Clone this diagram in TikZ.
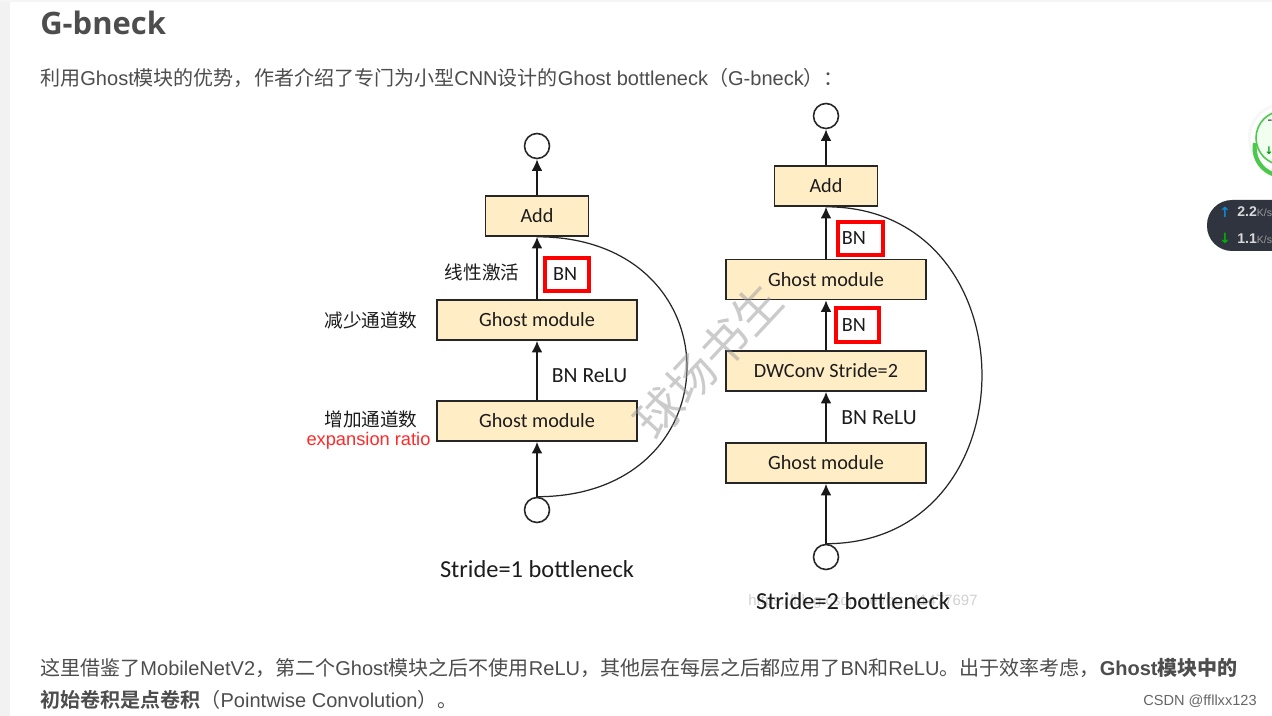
\documentclass[tikz,border=0pt]{standalone}
\usepackage{fontspec}
\usepackage{tikz}
\usetikzlibrary{calc, shapes.geometric, arrows.meta}
\setmainfont{Liberation Sans}
\newfontfamily\zhfont{Noto Sans CJK SC}
\newfontfamily\zhbold{Noto Sans CJK SC Bold}
\newfontfamily\figfont{Carlito}
\newfontfamily\headfont{Open Sans}
\newfontfamily\symfont{DejaVu Sans}
\newcommand{\zh}[1]{{\zhfont #1}}
\newcommand{\zhb}[1]{{\zhbold #1}}
\definecolor{boxfill}{HTML}{FFEDC6}
\definecolor{pagetext}{HTML}{4D4D4D}
\definecolor{figtext}{HTML}{1C1C1C}
\definecolor{pillfill}{HTML}{30343F}
\definecolor{ratiored}{HTML}{FF2A2A}
\tikzstyle{modulerect} = [rectangle, minimum width=4cm, minimum height=0.8cm,
    text centered, draw=black!85, fill=boxfill, line width=0.9pt, inner sep=0pt,
    font=\figfont\fontsize{11.5}{11.5}\selectfont, text=figtext]
\tikzstyle{addrect} = [modulerect, minimum width=2.06cm]
\tikzstyle{ioring} = [circle, minimum size=0.5cm, inner sep=0pt, draw=black!85, line width=0.9pt, fill=white]
\tikzstyle{bnrect} = [rectangle, draw=red, line width=2pt, minimum width=0.89cm, minimum height=0.67cm,
    inner sep=0pt, fill=white, font=\figfont\fontsize{11.5}{11.5}\selectfont, text=figtext]
\tikzstyle{figlabel} = [inner sep=0pt, font=\figfont\fontsize{12.3}{12.3}\selectfont, text=figtext]
\tikzstyle{zhlabel} = [inner sep=0pt, font=\zhfont\fontsize{10.6}{10.6}\selectfont, text=figtext]
\tikzstyle{captionlabel} = [inner sep=0pt, font=\figfont\fontsize{13.9}{13.9}\selectfont, text=figtext]
\tikzstyle{pagelabel} = [inner sep=0pt, anchor=west, font=\fontsize{11.4}{11.4}\selectfont, text=pagetext]
\tikzstyle{arrow} = [line width=1.1pt,-{Latex[length=6.6pt,width=6.2pt]}, draw=black!90]
\tikzstyle{skipline} = [line width=0.7pt, draw=black!85]
\begin{document}
\begin{tikzpicture}[x=0.02cm, y=-0.02cm]
    \useasboundingbox (0,0) rectangle (1272,716);
    \clip (0,0) rectangle (1272,716);
    % page
    \fill [white] (0,0) rectangle (1272,716);
    \fill [black!5] (0,0) rectangle (10,716);
    \fill [black!4] (0,0) rectangle (1272,2);
    \node (PageTitle) [pagelabel, font=\headfont\bfseries\fontsize{17.6}{17.6}\selectfont] at (40,23) {G-bneck};
    \node (PageIntro) [pagelabel] at (40,78) {\zh{利用}Ghost\zh{模块的优势，作者介绍了专门为小型}CNN\zh{设计的}Ghost bottleneck\zh{（}G-bneck\zh{）：}};
    \node (PageNoteA) [pagelabel] at (40,668) {\zh{这里借鉴了}MobileNetV2\zh{，第二个}Ghost\zh{模块之后不使用}ReLU\zh{，其他层在每层之后都应用了}BN\zh{和}ReLU\zh{。出于效率考虑，}\textbf{Ghost\zhb{模块中的}}};
    \node (PageNoteB) [pagelabel] at (40,700) {\zhb{初始卷积是点卷积}\zh{（}Pointwise Convolution\zh{）。}};
    \node (PageMark) [pagelabel, anchor=east, text=black!60, font=\fontsize{8.3}{8.3}\selectfont] at (1257,701) {CSDN @ffllxx123};

    % faint link under the caption
    \node (FaintLink) [inner sep=0pt, text=black!18, font=\fontsize{8.5}{8.5}\selectfont] at (863,602) {https://blog.csdn.net/qq\_41477697};

    % left column nodes
    \node (LeftTop) [ioring] at (537,146) {};
    \node (LeftAdd) [addrect] at (537,216) {Add};
    \node (LeftGhostB) [modulerect] at (537,320) {Ghost module};
    \node (LeftGhostA) [modulerect] at (537,421) {Ghost module};
    \node (LeftIn) [ioring] at (537,510) {};
    \node (LeftBN) [bnrect] at (567,274.5) {BN\kern 2pt};

    % left column labels
    \node (LeftLinear) [zhlabel] at (482,272) {线性激活};
    \node (LeftDown) [zhlabel] at (371,320) {减少通道数};
    \node (LeftUp) [zhlabel] at (371,419) {增加通道数};
    \node (LeftRatio) [inner sep=0pt, text=ratiored, font=\fontsize{10.4}{10.4}\selectfont] at (368.5,441) {expansion ratio};
    \node (LeftRelu) [figlabel] at (589.5,376) {BN ReLU};
    \node (LeftCaption) [captionlabel] at (537,569) {Stride=1 bottleneck};

    % right column nodes
    \node (RightTop) [ioring] at (826,116) {};
    \node (RightAdd) [addrect] at (826,186) {Add};
    \node (RightGhostC) [modulerect] at (826,279.5) {Ghost module};
    \node (RightConv) [modulerect] at (826,371) {DWConv Stride=2};
    \node (RightGhostA) [modulerect] at (826,463) {Ghost module};
    \node (RightIn) [ioring] at (826,557) {};
    \node (RightBNB) [bnrect, minimum width=0.91cm] at (860.5,238.5) {BN\kern 7.4pt};
    \node (RightBNA) [bnrect, minimum width=0.87cm, minimum height=0.69cm] at (857.5,325) {BN\kern 4pt};

    % right column labels
    \node (RightRelu) [figlabel] at (879,418) {BN ReLU};
    \node (RightCaption) [captionlabel] at (853,601) {Stride=2 bottleneck};

    % arrows
    \draw [arrow] (LeftIn) -- (LeftGhostA);
    \draw [arrow] (LeftGhostA) -- (LeftGhostB);
    \draw [arrow] (LeftGhostB) -- (LeftAdd);
    \draw [arrow] (LeftAdd) -- (LeftTop);
    \draw [skipline] (LeftIn.north) to [out=0, in=0, distance=4cm] (LeftAdd.south);

    \draw [arrow] (RightIn) -- (RightGhostA);
    \draw [arrow] (RightGhostA) -- (RightConv);
    \draw [arrow] (RightConv) -- (RightGhostC);
    \draw [arrow] (RightGhostC) -- (RightAdd);
    \draw [arrow] (RightAdd) -- (RightTop);
    \draw [skipline] (RightIn.north) to [out=0, in=0, distance=4.16cm] (RightAdd.south);

    % watermark over the figure
    \node (WaterMark) [inner sep=0pt, rotate=47, text=black!40, text opacity=0.5, font=\zhfont\fontsize{27}{27}\selectfont] at (708,361) {球场书生};

    % browser widgets
    \fill [black!3] (1283,138) circle (35);
    \fill [white] (1283,138) circle (32);
    \fill [green!6] (1283,138) circle (27);
    \draw [green!70!black!70, line width=0.9pt] (1283,138) circle (27);
    \draw [green!70!black!70, line width=2.4pt] (1255,143) arc [start angle=190, end angle=90, radius=28];
    \node (WidgetBar) [inner sep=0pt, text=black!80, font=\symfont\fontsize{8}{8}\selectfont] at (1270,122) {-};
    \node (WidgetDown) [inner sep=0pt, text=green!60!black, font=\symfont\bfseries\fontsize{6}{6}\selectfont] at (1269,151) {↓};
    \fill [pillfill, rounded corners=0.5cm] (1207,200) rectangle (1320,251);
    \node (PillUpArrow) [inner sep=0pt, text=cyan!70!blue, font=\symfont\bfseries\fontsize{8}{8}\selectfont] at (1225,212) {↑};
    \node (PillDownArrow) [inner sep=0pt, text=green!70!black, font=\symfont\bfseries\fontsize{8}{8}\selectfont] at (1225,238) {↓};
    \node (PillUp) [inner sep=0pt, anchor=west, text=white!85!black, font=\fontsize{8}{8}\selectfont] at (1237,212) {\textbf{2.2}{\fontsize{6}{6}\selectfont\color{black!40} K/s}};
    \node (PillDown) [inner sep=0pt, anchor=west, text=white!85!black, font=\fontsize{8}{8}\selectfont] at (1237,239) {\textbf{1.1}{\fontsize{6}{6}\selectfont\color{black!40} K/s}};
\end{tikzpicture}
\end{document}
